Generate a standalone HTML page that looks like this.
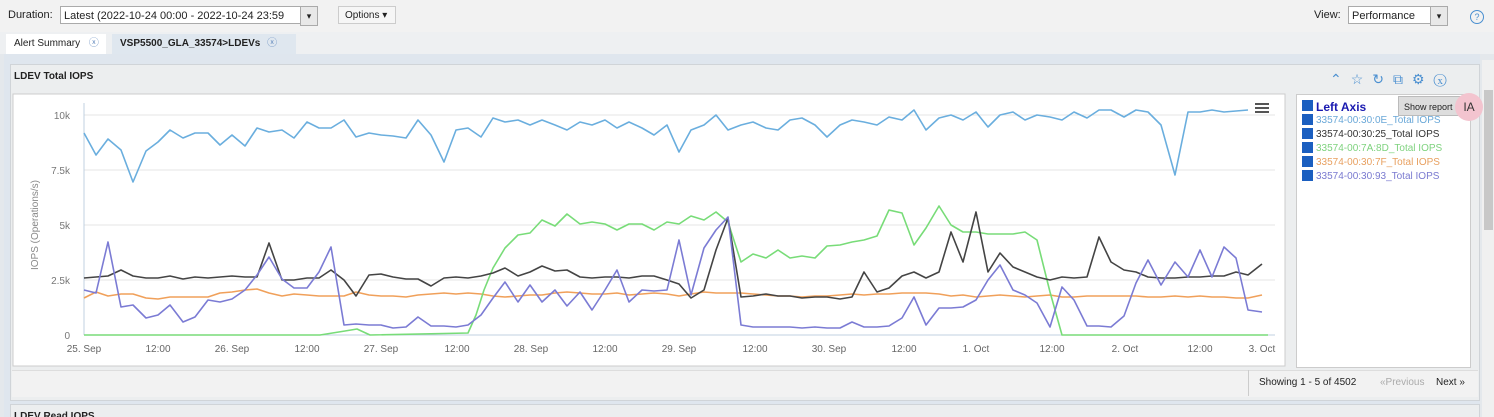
<!DOCTYPE html><html><head><style>
html,body{margin:0;width:1494px;height:417px;overflow:hidden}
body{background:#e4e8ec;font-family:"Liberation Sans",sans-serif;font-size:11px;color:#222;position:relative}
.a{position:absolute}
</style></head><body>
<div class="a" style="left:0;top:0;width:1494px;height:32px;background:#f2f2f2"></div>
<div class="a" style="top:9px;left:8px;font-size:11px">Duration:</div>
<div class="a" style="left:60px;top:6px;height:18px;border:1px solid #aaa;background:#fff;font-size:11px;line-height:18px;padding-left:3px;box-sizing:border-box;width:257px;overflow:hidden;white-space:nowrap">Latest (2022-10-24 00:00 - 2022-10-24 23:59</div>
<div class="a" style="left:300px;top:6px;width:16px;height:18px;border:1px solid #aaa;background:#e8e8e8;font-size:9px;text-align:center;line-height:18px">▾</div>
<div class="a" style="left:338px;top:6px;width:58px;height:18px;border:1px solid #ccc;background:#f6f6f6;font-size:10px;line-height:18px;padding-left:6px;box-sizing:border-box">Options ▾</div>
<div class="a" style="left:1314px;top:9px;font-size:11px">View:</div>
<div class="a" style="left:1348px;top:6px;width:98px;height:18px;border:1px solid #aaa;background:#fff;font-size:11px;line-height:18px;padding-left:3px;box-sizing:border-box">Performance</div>
<div class="a" style="left:1430px;top:6px;width:16px;height:18px;border:1px solid #aaa;background:#e8e8e8;font-size:9px;text-align:center;line-height:18px">▾</div>
<div class="a" style="left:1470px;top:10px;width:12px;height:12px;border:1px solid #4a8fd0;border-radius:50%;color:#4a8fd0;font-size:9px;text-align:center;line-height:12px">?</div>
<div class="a" style="left:0;top:32px;width:1494px;height:22px;background:#eef0f2"></div>
<div class="a" style="left:6px;top:34px;width:100px;height:20px;background:#fff;font-size:10px;line-height:20px;padding-left:8px;box-sizing:border-box">Alert Summary <span style="color:#6a8fc0;margin-left:6px">ⓧ</span></div>
<div class="a" style="left:112px;top:34px;width:184px;height:20px;background:#dfe7ef;font-size:10px;font-weight:bold;line-height:20px;padding-left:8px;box-sizing:border-box">VSP5500_GLA_33574&gt;LDEVs <span style="color:#6a8fc0;font-weight:normal;margin-left:4px">ⓧ</span></div>
<div class="a" style="left:4px;top:54px;width:1476px;height:363px;background:#dfe6ee"></div>
<div class="a" style="left:10px;top:64px;width:1468px;height:335px;background:#eceeef;border:1px solid #d0d4d8"></div>
<div class="a" style="left:14px;top:71px;font-size:10px;font-weight:bold">LDEV Total IOPS</div>
<div class="a" style="left:1330px;top:71px;color:#4a8fd0;font-size:14px;letter-spacing:9px">⌃☆↻⧉⚙ⓧ</div>
<div class="a" style="left:1482px;top:60px;width:12px;height:357px;background:#f0f0f0"></div>
<div class="a" style="left:1484px;top:90px;width:9px;height:140px;background:#c8c8c8"></div>
<div class="a" style="left:1296px;top:94px;width:173px;height:272px;background:#fff;border:1px solid #ccc"></div>
<div class="a" style="left:1302px;top:100px;line-height:14px;font-size:10px">
<div style="color:#1a1ab0;font-weight:bold;font-size:12px"><span style="display:inline-block;width:11px;height:11px;background:#1b5fc0;margin-right:3px"></span>Left Axis</div>
<div style="color:#6aa8d8"><span style="display:inline-block;width:11px;height:11px;background:#1b5fc0;margin-right:3px;vertical-align:-2px"></span>33574-00:30:0E_Total IOPS</div>
<div style="color:#333"><span style="display:inline-block;width:11px;height:11px;background:#1b5fc0;margin-right:3px;vertical-align:-2px"></span>33574-00:30:25_Total IOPS</div>
<div style="color:#7ed27e"><span style="display:inline-block;width:11px;height:11px;background:#1b5fc0;margin-right:3px;vertical-align:-2px"></span>33574-00:7A:8D_Total IOPS</div>
<div style="color:#e8a060"><span style="display:inline-block;width:11px;height:11px;background:#1b5fc0;margin-right:3px;vertical-align:-2px"></span>33574-00:30:7F_Total IOPS</div>
<div style="color:#7a7ad0"><span style="display:inline-block;width:11px;height:11px;background:#1b5fc0;margin-right:3px;vertical-align:-2px"></span>33574-00:30:93_Total IOPS</div>
</div>
<div class="a" style="left:1398px;top:96px;width:70px;height:20px;background:#ddd;font-size:9px;line-height:20px;padding-left:5px;box-sizing:border-box;border:1px solid #bbb">Show report</div>
<div class="a" style="left:1455px;top:93px;width:28px;height:28px;border-radius:50%;background:#f3c4cf;font-size:12px;text-align:center;line-height:28px;color:#333">IA</div>
<svg class="a" style="left:0;top:0" width="1494" height="417">
<rect x="13" y="94" width="1272" height="272" fill="#fff" stroke="#ccc"/>
<g stroke="#e6e6e6"><line x1="84" x2="1275" y1="115" y2="115"/><line x1="84" x2="1275" y1="170" y2="170"/><line x1="84" x2="1275" y1="225" y2="225"/><line x1="84" x2="1275" y1="280" y2="280"/></g>
<line x1="84" x2="84" y1="103" y2="335" stroke="#c0d0e0"/>
<line x1="84" x2="1275" y1="335" y2="335" stroke="#c0d0e0"/>
<g fill="#777" font-size="10" text-anchor="end" font-family="Liberation Sans"><text x="70" y="119">10k</text><text x="70" y="174">7.5k</text><text x="70" y="229">5k</text><text x="70" y="284">2.5k</text><text x="70" y="339">0</text></g>
<text transform="translate(38,225) rotate(-90)" fill="#888" font-size="10" text-anchor="middle" font-family="Liberation Sans">IOPS (Operations/s)</text>
<g fill="#666" font-size="10" text-anchor="middle" font-family="Liberation Sans"><text x="84" y="352">25. Sep</text><text x="158" y="352">12:00</text><text x="232" y="352">26. Sep</text><text x="307" y="352">12:00</text><text x="381" y="352">27. Sep</text><text x="457" y="352">12:00</text><text x="531" y="352">28. Sep</text><text x="605" y="352">12:00</text><text x="679" y="352">29. Sep</text><text x="755" y="352">12:00</text><text x="829" y="352">30. Sep</text><text x="904" y="352">12:00</text><text x="976" y="352">1. Oct</text><text x="1052" y="352">12:00</text><text x="1125" y="352">2. Oct</text><text x="1200" y="352">12:00</text><text x="1262" y="352">3. Oct</text></g>
<g fill="#555"><rect x="1255" y="103" width="14" height="2"/><rect x="1255" y="107" width="14" height="2"/><rect x="1255" y="111" width="14" height="2"/></g>
<g fill="none" stroke-width="1.6" stroke-linejoin="round">
<polyline stroke="#f0a05a" points="84,298 96,292 108,296 121,294 133,294 146,298 158,299 170,297 183,297 195,297 208,297 220,293 232,292 245,290 257,289 269,293 282,296 294,294 307,295 319,296 331,296 344,296 356,292 369,295 381,296 393,296 406,297 418,295 431,294 444,293 456,294 468,293 481,294 493,296 505,297 518,296 530,295 542,295 555,293 567,292 580,293 592,294 605,294 617,293 629,295 642,294 654,293 667,294 679,296 691,294 704,292 716,293 728,293 741,293 753,294 766,295 778,296 790,296 802,297 815,296 827,296 840,295 852,294 864,295 877,294 889,294 902,293 914,293 926,293 939,294 951,296 963,295 976,297 988,296 1000,295 1013,296 1025,297 1037,296 1050,295 1062,297 1074,297 1087,296 1099,296 1111,296 1124,296 1136,296 1148,297 1161,297 1175,296 1188,297 1200,296 1212,297 1224,297 1236,298 1248,298 1262,295"/>
<polyline stroke="#78dc78" points="84,335 320,335 345,331 357,329 370,335 468,333 476,315 484,290 493,268 505,248 518,235 530,233 542,220 555,226 567,214 580,224 592,222 605,224 617,230 629,224 642,224 654,230 667,222 679,224 691,216 704,220 716,212 728,222 741,262 753,254 766,258 778,250 790,258 802,256 815,258 827,246 840,245 852,242 864,240 877,236 889,210 902,213 914,245 926,228 939,206 951,225 963,232 976,232 988,234 1000,234 1013,234 1025,232 1037,240 1050,292 1062,335 1268,335"/>
<polyline stroke="#444" points="84,278 96,277 108,276 121,270 133,276 146,278 158,278 170,276 183,279 195,277 208,278 220,277 232,276 245,277 257,277 269,243 282,280 294,280 307,278 319,278 331,270 344,280 356,296 369,275 381,274 393,277 406,279 418,279 431,286 444,278 456,277 468,278 481,276 493,273 505,268 518,276 530,272 542,266 555,271 567,270 580,277 592,278 605,277 617,277 629,278 642,276 654,276 667,280 679,284 691,298 704,290 716,250 728,218 741,297 753,296 766,294 778,296 790,296 802,298 815,297 827,297 840,299 852,297 864,272 877,292 889,288 902,276 914,272 926,278 939,272 951,232 963,262 976,212 988,272 1000,253 1013,267 1025,272 1037,277 1050,280 1062,277 1074,278 1087,277 1099,237 1111,262 1124,270 1136,272 1148,277 1161,278 1175,278 1188,277 1200,277 1212,276 1224,276 1236,272 1248,275 1262,264"/>
<polyline stroke="#7b7bd4" points="84,290 96,293 108,242 121,307 133,305 146,318 158,315 170,305 183,322 195,317 208,300 220,302 232,299 245,290 257,275 269,257 282,279 294,288 307,288 319,272 331,247 344,325 356,324 369,325 381,325 393,328 406,327 418,317 431,326 444,326 456,327 468,325 481,315 493,298 505,282 518,302 530,285 542,302 555,290 567,306 580,292 592,310 605,290 617,270 629,302 642,290 654,291 667,290 679,240 691,295 704,248 716,230 728,217 741,325 753,327 766,327 778,327 790,327 802,328 815,327 827,328 840,328 852,322 864,327 877,327 889,326 902,318 914,297 926,325 939,308 951,308 963,307 976,300 988,280 1000,265 1013,290 1025,295 1037,303 1050,327 1062,287 1074,300 1087,326 1099,326 1111,327 1124,316 1136,283 1148,260 1161,285 1175,262 1188,277 1200,250 1212,277 1224,247 1236,258 1248,310 1262,312"/>
<polyline stroke="#6aaede" points="84,133 96,155 108,139 121,150 133,182 146,151 158,142 170,130 183,138 195,133 208,133 220,145 232,135 245,146 257,128 269,132 282,130 294,138 307,122 319,128 331,128 344,120 356,137 369,133 381,135 393,136 406,138 418,120 431,135 444,162 456,130 468,128 481,137 493,118 505,122 518,120 530,125 542,120 555,125 567,130 580,122 592,125 605,120 617,128 629,122 642,128 654,135 667,125 679,152 691,130 704,125 716,115 728,130 741,125 753,122 766,128 778,130 790,120 802,118 815,125 827,137 840,125 852,120 864,122 877,125 889,117 902,120 914,110 926,130 939,118 951,115 963,120 976,112 988,127 1000,115 1013,112 1025,120 1037,115 1050,117 1062,120 1074,112 1087,118 1099,110 1111,110 1124,117 1136,110 1148,112 1161,125 1175,175 1188,112 1200,112 1212,110 1224,112 1236,111 1248,110"/>
</g>
</svg>
<div class="a" style="left:12px;top:370px;width:1466px;height:26px;background:#f2f2f2;border-top:1px solid #ddd"></div>
<div class="a" style="left:1248px;top:370px;width:1px;height:26px;background:#ccc"></div>
<div class="a" style="left:1259px;top:377px;font-size:10px">Showing 1 - 5 of 4502</div>
<div class="a" style="left:1380px;top:377px;font-size:10px;color:#aaa">«Previous</div>
<div class="a" style="left:1436px;top:377px;font-size:10px">Next »</div>
<div class="a" style="left:10px;top:404px;width:1468px;height:20px;background:#eceeef;border:1px solid #d0d4d8"></div>
<div class="a" style="left:14px;top:411px;font-size:10px;font-weight:bold">LDEV Read IOPS</div>
</body></html>
